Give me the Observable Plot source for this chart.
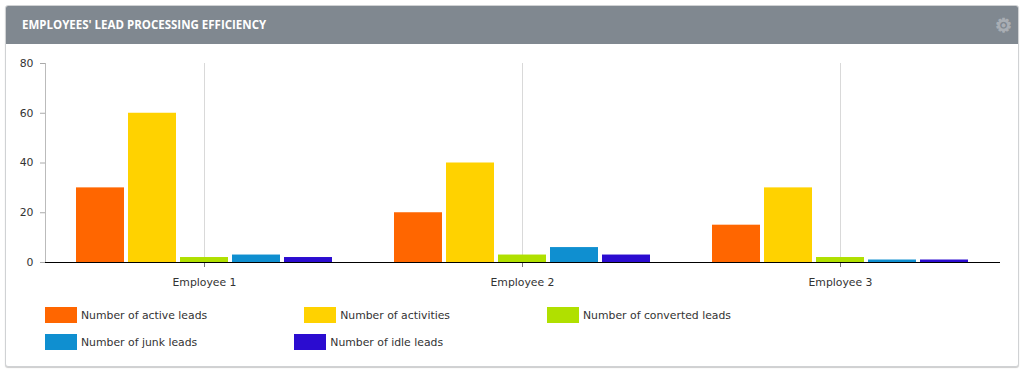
<!DOCTYPE html>
<html>
<head>
<meta charset="utf-8">
<script src="https://cdn.jsdelivr.net/npm/d3@7"></script>
<script src="https://cdn.jsdelivr.net/npm/@observablehq/plot@0.6"></script>
<style>
html,body{margin:0;padding:0;background:#fff;width:1024px;height:375px;overflow:hidden}
#panel{position:absolute;left:5px;top:5px;width:1012px;height:360px;border:1px solid #d0d2d4;border-radius:3px;box-shadow:0 1px 1px #ccc;background:#fff;overflow:hidden}
#head{position:absolute;left:0;top:0;right:0;height:38px;background:#808890;color:#fff;font:bold 11.5px/38px "Open Sans",sans-serif;text-transform:uppercase;padding-left:16px}
#gear{position:absolute;right:6px;top:0;color:#a9aeb4;font:19px/38px "DejaVu Sans",sans-serif;text-transform:none;-webkit-text-stroke:1px #a9aeb4}
#chart{position:absolute;left:0;top:44px}
#chart svg{display:block}
#legend{position:absolute;left:45px;top:307px;width:720px;display:flex;flex-wrap:wrap;column-gap:97px;row-gap:11px;font:10.85px/16px "DejaVu Sans",sans-serif;color:#333}
.item{display:flex;align-items:center;height:16px}
.item span{position:relative;top:1px}
.sw{width:32px;height:16px;margin-right:4px}
</style>
</head>
<body>
<div id="panel"><div id="head">Employees' lead processing efficiency<span id="gear">⚙</span></div></div>
<div id="chart"></div>
<div id="legend"></div>
<script>
const employees = ["Employee 1", "Employee 2", "Employee 3"];
const seriesNames = ["Number of active leads", "Number of activities", "Number of converted leads", "Number of junk leads", "Number of idle leads"];
const activeLeads = [30, 20, 15];
const activities = [60, 40, 30];
const convertedLeads = [2, 3, 2];
const junkLeads = [3, 6, 1];
const idleLeads = [2, 3, 1];
const colors = ["#ff6600", "#ffd200", "#b0e000", "#0f8fd0", "#2b0cd0"];
const yTicks = [0, 20, 40, 60, 80];

const allValues = [activeLeads, activities, convertedLeads, junkLeads, idleLeads];
const rows = seriesNames.flatMap((s, i) => employees.map((e, j) => ({employee: e, series: s, value: allValues[i][j]})));

const plot = Plot.plot({
  width: 1024,
  height: 251,
  marginLeft: 45,
  marginRight: 25,
  marginTop: 19,
  marginBottom: 33,
  style: {background: "transparent", fontFamily: "'DejaVu Sans',sans-serif", fontSize: "10.85px", color: "#333"},
  fx: {domain: employees, padding: 0, label: null},
  x: {domain: seriesNames, paddingInner: 0.077, paddingOuter: 0.596, align: 0.505, axis: null},
  y: {domain: [0, 80], label: null, axis: null},
  color: {domain: seriesNames, range: colors},
  marks: [
    Plot.gridFx({stroke: "#d9d9d9", strokeOpacity: 1, strokeWidth: 1}),
    Plot.barY(rows, {fx: "employee", x: "series", y: "value", fill: "series"}),
    Plot.axisFx({anchor: "bottom", tickSize: 5, tickPadding: 11, label: null, stroke: "#777", fill: "#333"}),
    Plot.axisY({ticks: yTicks, anchor: "left", tickSize: 5, tickPadding: 7, label: null, stroke: "#aaa", fill: "#333"}),
    Plot.frame({anchor: "left", stroke: "#bbb", facet: "super"}),
    Plot.frame({anchor: "bottom", stroke: "#000", facet: "super"})
  ]
});
document.getElementById("chart").appendChild(plot);

const legend = d3.select("#legend");
seriesNames.forEach((s, i) => {
  const it = legend.append("div").attr("class", "item");
  it.append("div").attr("class", "sw").style("background", colors[i]);
  it.append("span").text(s);
});
</script>
</body>
</html>
